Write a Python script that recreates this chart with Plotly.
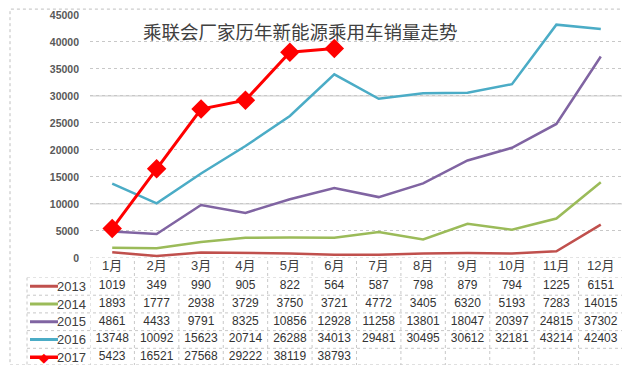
import plotly.graph_objects as go

months = ["1月", "2月", "3月", "4月", "5月", "6月", "7月", "8月", "9月", "10月", "11月", "12月"]
series_names = ["2013", "2014", "2015", "2016", "2017"]
v2013 = [1019, 349, 990, 905, 822, 564, 587, 798, 879, 794, 1225, 6151]
v2014 = [1893, 1777, 2938, 3729, 3750, 3721, 4772, 3405, 6320, 5193, 7283, 14015]
v2015 = [4861, 4433, 9791, 8325, 10856, 12928, 11258, 13801, 18047, 20397, 24815, 37302]
v2016 = [13748, 10092, 15623, 20714, 26288, 34013, 29481, 30495, 30612, 32181, 43214, 42403]
v2017 = [5423, 16521, 27568, 29222, 38119, 38793]
title_text = "乘联会厂家历年新能源乘用车销量走势"

colors = ["#C0504D", "#9BBB59", "#8064A2", "#4BACC6", "#FF0000"]
all_vals = [v2013, v2014, v2015, v2016, v2017]

W, H = 630, 365
ML, MR, MT, MB = 82, 15, 7, 1
PW, PH = W - ML - MR, H - MT - MB


def px(x):
    return (x - ML) / PW


def py(y):
    return (H - MB - y) / PH


TXT = "#404040"
GRID = "#c8c8c8"
FONT = "Liberation Sans, Arial, Noto Sans CJK SC"

fig = go.Figure()

# chart lines
for i, (name, vals) in enumerate(zip(series_names, all_vals)):
    is17 = name == "2017"
    fig.add_trace(go.Scatter(
        x=months[:len(vals)], y=vals, name=name,
        mode="lines+markers" if is17 else "lines",
        line=dict(color=colors[i], width=3 if is17 else 2.5),
        marker=dict(symbol="diamond", size=15, color=colors[i]) if is17 else None,
        xaxis="x", yaxis="y", showlegend=False, hoverinfo="skip",
    ))

# data table text
for i, (name, vals) in enumerate(zip(series_names, all_vals)):
    fig.add_trace(go.Scatter(
        x=months[:len(vals)], y=[i] * len(vals),
        mode="text", text=[str(v) for v in vals],
        textfont=dict(family=FONT, size=12, color="#333333"),
        textposition="middle center",
        xaxis="x", yaxis="y2", showlegend=False, hoverinfo="skip",
    ))

shapes = []
dot = dict(color=GRID, width=1, dash="dot")
# solid-looking grid lines (as rendered in reference)
for yv in (10000, 30000):
    shapes.append(dict(type="line", xref="paper", yref="y", x0=0, x1=1, y0=yv, y1=yv,
                       line=dict(color="#c8c8c8", width=1), layer="below"))
# table top border
shapes.append(dict(type="line", xref="paper", yref="y", x0=0, x1=1, y0=0, y1=0, line=dot))
# table horizontal lines
for r in range(len(series_names) + 1):
    yy = r - 0.5
    shapes.append(dict(type="line", xref="paper", yref="y2", x0=px(19), x1=1, y0=yy, y1=yy, line=dot))
# table vertical lines
for c in range(len(months) + 1):
    xx = c - 0.5
    shapes.append(dict(type="line", xref="x", yref="paper", x0=xx, x1=xx, y0=0, y1=py(254), line=dot))
shapes.append(dict(type="line", xref="paper", yref="y2", x0=px(19), x1=px(19), y0=-0.5,
                   y1=len(series_names) - 0.5, line=dot))
# legend key lines
for i, name in enumerate(series_names):
    shapes.append(dict(type="line", xref="paper", yref="y2", x0=px(22), x1=px(50), y0=i, y1=i,
                       line=dict(color=colors[i], width=3.5 if name == "2017" else 3)))
# outer border
shapes.append(dict(type="rect", xref="paper", yref="paper", x0=px(2), x1=px(627), y0=py(363), y1=py(1),
                   line=dict(color="#bfbfbf", width=1, dash="dot")))

annotations = [
    dict(text=title_text, xref="paper", yref="paper", x=px(133), y=py(23), showarrow=False,
         xanchor="left", yanchor="middle",
         font=dict(family="Noto Sans CJK SC", size=18.5, color=TXT)),
    dict(text="◆", xref="paper", yref="y2", x=px(36), y=4, showarrow=False,
         xanchor="center", yanchor="middle", font=dict(size=13, color=colors[4], family="DejaVu Sans")),
]

fig.update_layout(
    width=W, height=H,
    margin=dict(l=ML, r=MR, t=MT, b=MB),
    paper_bgcolor="white", plot_bgcolor="white",
    shapes=shapes, annotations=annotations,
    xaxis=dict(type="category", categoryorder="array", categoryarray=months,
               range=[-0.5, len(months) - 0.5], domain=[0, 1], anchor="y",
               showgrid=False, showline=False, zeroline=False, ticks="",
               tickfont=dict(family=FONT, size=13, color=TXT), ticklabelstandoff=-2),
    yaxis=dict(domain=[py(254), 1], range=[0, 45000], dtick=5000, tickformat="d", anchor="x",
               showgrid=True, gridcolor=GRID, griddash="dot", gridwidth=1,
               zeroline=False, showline=False, ticks="",
               tickfont=dict(family=FONT, size=10.5, color="#595959", weight="bold"),
               ticklabelstandoff=10),
    yaxis2=dict(domain=[0, py(274)], range=[len(series_names) - 0.5, -0.5], anchor="x",
                tickvals=list(range(len(series_names))), ticktext=series_names,
                showgrid=False, zeroline=False, showline=False, ticks="",
                tickfont=dict(family=FONT, size=13, color=TXT), ticklabelstandoff=3),
)

fig.write_html("out.html")
